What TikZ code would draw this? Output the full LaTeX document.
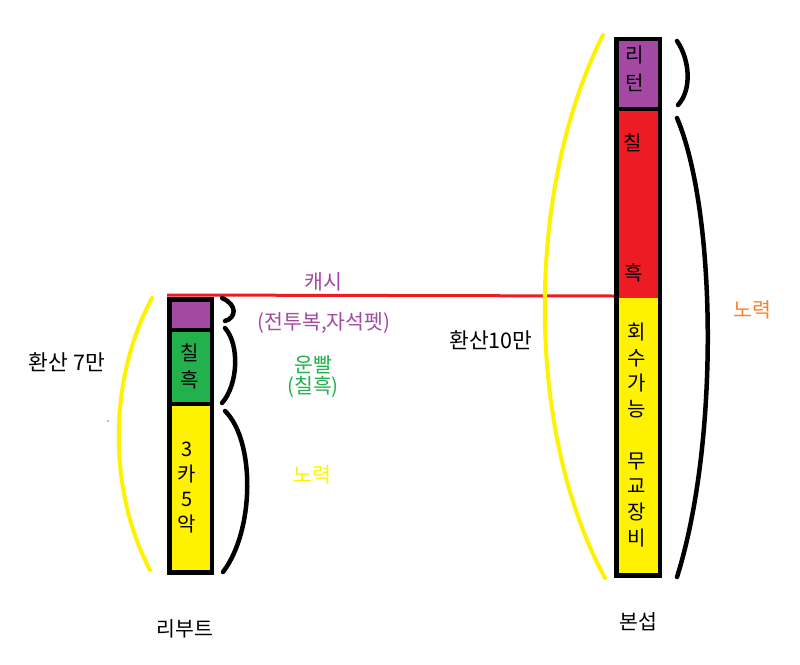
\documentclass[tikz,border=0pt]{standalone}
\usepackage{fontspec}
\setmainfont{Noto Sans CJK KR}
\definecolor{ppurple}{HTML}{A349A4}
\definecolor{pgreen}{HTML}{22B14C}
\definecolor{pyellow}{HTML}{FFF200}
\definecolor{pred}{HTML}{ED1C24}
\definecolor{porange}{HTML}{FF7F27}
\begin{document}
\begin{tikzpicture}[x=1pt,y=-1pt,
  blk/.style={fill=black, inner sep=0pt, outer sep=0pt},
  seg/.style={inner sep=0pt, outer sep=0pt},
  txt/.style={inner sep=0pt, font=\fontsize{20.5}{24}\selectfont, align=center},
  bracestroke/.style={line width=4.5pt, line cap=round},
  parenstroke/.style={line width=4pt, draw=pyellow, line cap=round}]
\useasboundingbox (0,0) rectangle (800,664);
\fill[white] (0,0) rectangle (800,664);
% left bar
\node[blk, minimum width=47pt, minimum height=278pt] (lbar) at (190.5,436) {};
\node[seg, fill=ppurple, minimum width=38pt, minimum height=26pt] (lpur) at (191,315) {};
\node[seg, fill=pgreen, minimum width=38pt, minimum height=70pt] (lgrn) at (191,367) {};
\node[seg, fill=pyellow, minimum width=38pt, minimum height=164pt] (lyel) at (191,488) {};
\node[txt, font=\fontsize{20}{27}\selectfont] (tlg) at (190,366.5) {칠\\흑};
\node[txt, font=\fontsize{20}{25}\selectfont] (tly) at (187,487.5) {3\\카\\5\\악};
% right bar
\node[blk, minimum width=48pt, minimum height=541pt] (rbar) at (638,307.5) {};
\node[seg, fill=ppurple, minimum width=39pt, minimum height=66pt] (rpur) at (638.5,74) {};
\node[seg, fill=pred, minimum width=39pt, minimum height=187pt] (rred) at (638.5,204.5) {};
\node[seg, fill=pyellow, minimum width=39pt, minimum height=275pt] (ryel) at (638.5,435.5) {};
\node[txt, font=\fontsize{20}{28}\selectfont] (trp) at (635,69) {리\\턴};
\node[txt, font=\fontsize{20}{24}\selectfont] (tr1) at (633,143) {칠};
\node[txt, font=\fontsize{20}{24}\selectfont] (tr2) at (634,273) {흑};
\node[txt, font=\fontsize{20}{25.75}\selectfont] (try) at (637,435) {회\\수\\가\\능\\[25.75pt]무\\교\\장\\비};
% red line
\coordinate (rl1) at (167,295);
\coordinate (rl2) at (614,296);
\draw[pred, line width=3pt] (rl1) -- (rl2);
% yellow parens
\draw[parenstroke] (152,298) .. controls (108,380) and (108,490) .. (150,570);
\draw[parenstroke] (603,35) .. controls (525,190) and (525,430) .. (605,578);
% black braces left
\draw[bracestroke] (222,298) .. controls (238,305) and (236,318) .. (225,321);
\draw[bracestroke] (225,328) .. controls (240,345) and (238,385) .. (222,403);
\draw[bracestroke] (225,411) .. controls (255,440) and (255,530) .. (223,572);
% black braces right
\draw[bracestroke] (677,41) .. controls (690,60) and (692,90) .. (678,105);
\draw[bracestroke] (677,118) .. controls (716,210) and (720,440) .. (677,577);
% labels
\node[txt, text=ppurple] (cash) at (323,282) {캐시};
\node[txt, text=ppurple] (items) at (324,323) {(전투복,자석펫)};
\node[txt, text=pgreen] (luck) at (313,365) {운빨};
\node[txt, text=pgreen] (luck2) at (313,387) {(칠흑)};
\node[txt, text=pyellow] (eff1) at (312,475) {노력};
\node[txt, font=\fontsize{21.5}{24}\selectfont] (conv7) at (67,362) {환산 7만};
\node[txt, font=\fontsize{21.5}{24}\selectfont] (conv10) at (491,340) {환산10만};
\node[txt, text=porange] (eff2) at (752,310) {노력};
\node[txt] (reboot) at (185,629) {리부트};
\node[txt] (main) at (638,622) {본섭};
\fill[gray] (108,421) circle (0.8pt);
\end{tikzpicture}
\end{document}
